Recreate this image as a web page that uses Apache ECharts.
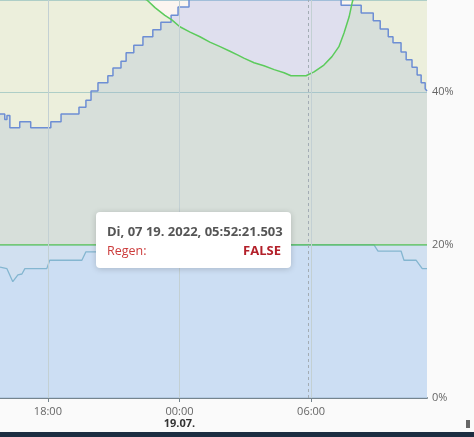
<!DOCTYPE html>
<html>
<head>
<meta charset="utf-8">
<title>Regen / Feuchte</title>
<script src="https://cdn.jsdelivr.net/npm/echarts@6/dist/echarts.min.js"></script>
<style>
  html, body { margin: 0; padding: 0; background: #fafafa; }
  #chart { width: 474px; height: 437px; }
</style>
</head>
<body>
<div id="chart"></div>
<script>
// step line (dark blue), values in %
var stepTimes = ['18 15:49', '18 16:02', '18 16:08', '18 16:16', '18 16:43', '18 17:13', '18 18:08', '18 18:36',
    '18 19:25', '18 19:44', '18 19:58', '18 20:17', '18 20:44', '18 20:58', '18 21:20', '18 21:34',
    '18 21:55', '18 22:20', '18 22:47', '18 23:09', '18 23:37', '18 23:56', '19 00:26', '19 00:56',
    '19 01:37', '19 02:46', '19 04:08', '19 05:30', '19 06:38', '19 07:08', '19 07:22', '19 08:17',
    '19 08:50', '19 09:09', '19 09:31', '19 09:44', '19 10:06', '19 10:20', '19 10:36', '19 10:50',
    '19 11:01', '19 11:12', '19 11:17'];
var stepValues = [37.1, 36.4, 36.9, 35.3, 36.1, 35.3, 36.1, 37.1,
    38.0, 38.9, 40.1, 41.2, 42.1, 43.1, 44.0, 45.1,
    46.1, 47.2, 48.1, 49.1, 50.0, 51.1, 52.1, 53.2,
    54.2, 55.1, 55.6, 54.8, 53.4, 52.3, 51.3, 50.3,
    49.3, 48.2, 47.2, 46.4, 45.2, 44.2, 43.2, 42.2,
    41.2, 40.4, 40.1];

// green curve
var humTimes = ['18 15:49', '18 18:33', '18 20:50', '18 21:44', '18 22:31', '18 22:53', '18 23:20', '18 23:39',
    '19 00:01', '19 00:29', '19 00:56', '19 01:23', '19 01:51', '19 02:18', '19 02:40', '19 02:56',
    '19 03:24', '19 03:51', '19 04:19', '19 04:46', '19 05:05', '19 05:46', '19 06:08', '19 06:35',
    '19 06:57', '19 07:16', '19 07:30', '19 07:44', '19 07:52', '19 07:55', '19 09:09', '19 11:17'];
var humValues = [62, 57, 54, 53, 52.0, 51.0, 50.0, 49.4,
    48.5, 47.8, 47.2, 46.5, 45.9, 45.3, 44.8, 44.4,
    43.8, 43.4, 42.9, 42.5, 42.1, 42.1, 42.6, 43.5,
    44.6, 45.9, 47.7, 49.8, 51.6, 52.1, 58, 64];

// light blue line near 20 %
var tempTimes = ['18 15:49', '18 16:08', '18 16:24', '18 16:38', '18 16:49', '18 16:57', '18 17:57', '18 18:05',
    '18 19:33', '18 19:44', '18 20:14', '18 20:25', '19 08:52', '19 09:03', '19 10:06', '19 10:14',
    '19 10:47', '19 11:04', '19 11:17'];
var tempValues = [17.1, 16.9, 15.2, 16.1, 16.2, 16.9, 16.9, 18.0,
    18.0, 19.1, 19.1, 20.0, 20.0, 19.2, 19.2, 18.0,
    18.0, 16.9, 16.9];

// flat green line
var limitTimes = ['18 15:49', '19 11:17'];
var limitValues = [20, 20];

var xTicks = ['18 18:00', '19 00:00', '19 06:00'];
var yTicks = [0, 20, 40];
var axisStart = '18 15:49';
var axisEnd = '19 11:17';
var cursorTime = '19 05:52:21';
var tipTitle = 'Di, 07 19. 2022, 05:52:21.503';
var tipLabel = 'Regen:';
var tipValue = 'FALSE';

// 'DD HH:MM[:SS]' -> timestamp (July 2022)
function toTime(s) {
    var p = s.split(' ');
    var hm = p[1].split(':');
    return new Date(2022, 6, +p[0], +hm[0], +hm[1], +(hm[2] || 0)).getTime();
}
function pairs(times, values) {
    return times.map(function (t, i) { return [toTime(t), values[i]]; });
}
function pad(n) { return (n < 10 ? '0' : '') + n; }

var FONT = '"Open Sans", "Noto Sans", sans-serif';
var tickValues = xTicks.map(toTime);
var chart = echarts.init(document.getElementById('chart'), null, { renderer: 'canvas' });

chart.setOption({
    animation: false,
    backgroundColor: '#fafafa',
    grid: {
        left: 0, right: 47, top: 0, bottom: 39,
        show: true, backgroundColor: '#fbf5f0', borderWidth: 0
    },
    xAxis: {
        // timestamps on a value axis so the ticks can be pinned to the labelled hours
        type: 'value',
        min: toTime(axisStart),
        max: toTime(axisEnd),
        axisLine: { lineStyle: { color: '#75848d', width: 2 } },
        axisTick: { show: true, length: 4, customValues: tickValues, lineStyle: { color: '#75848d' } },
        splitLine: { show: false },
        axisLabel: {
            margin: 8,
            customValues: tickValues,
            fontFamily: FONT,
            fontSize: 11,
            color: '#666',
            formatter: function (value) {
                var d = new Date(value);
                var hm = pad(d.getHours()) + ':' + pad(d.getMinutes());
                if (d.getHours() === 0) {
                    return '{t|' + hm + '}\n{d|' + pad(d.getDate()) + '.' + pad(d.getMonth() + 1) + '.}';
                }
                return '{t|' + hm + '}';
            },
            rich: {
                t: { fontFamily: FONT, fontSize: 11, color: '#666', lineHeight: 12 },
                d: { fontFamily: FONT, fontSize: 11, color: '#333', fontWeight: 'bold', lineHeight: 12 }
            }
        }
    },
    yAxis: {
        type: 'value',
        position: 'right',
        min: yTicks[0],
        max: 52,
        interval: yTicks[1] - yTicks[0],
        axisLine: { show: false },
        axisTick: { show: false },
        splitLine: { lineStyle: { color: '#a8c9d4', width: 1 } },
        axisLabel: {
            showMaxLabel: false,
            margin: 5,
            fontFamily: FONT,
            fontSize: 11,
            color: '#666',
            formatter: '{value}%'
        }
    },
    series: [
        {
            name: 'Stufe',
            type: 'line',
            step: 'end',
            data: pairs(stepTimes, stepValues),
            symbol: 'none',
            lineStyle: { color: '#6d8ed4', width: 1.5 },
            areaStyle: { color: 'rgba(140, 160, 230, 0.25)', opacity: 1 },
            // vertical grid lines at the labelled hours
            markLine: {
                silent: true,
                symbol: 'none',
                label: { show: false },
                lineStyle: { color: '#c3d0d3', width: 1, type: 'solid', opacity: 1 },
                data: tickValues.map(function (t) { return { xAxis: t }; })
            }
        },
        {
            name: 'Feuchte',
            type: 'line',
            data: pairs(humTimes, humValues),
            symbol: 'none',
            lineStyle: { color: '#5ccb5c', width: 1.5 },
            areaStyle: { color: 'rgba(190, 225, 160, 0.25)', opacity: 1 }
        },
        {
            // blue band under the limit
            name: 'Grenze-Fläche',
            type: 'line',
            data: pairs(limitTimes, limitValues),
            symbol: 'none',
            lineStyle: { width: 0 },
            areaStyle: { color: 'rgba(205, 225, 255, 0.6)', opacity: 1 }
        },
        {
            name: 'Temperatur',
            type: 'line',
            data: pairs(tempTimes, tempValues),
            symbol: 'none',
            lineStyle: { color: '#84b6d0', width: 1.3 },
            areaStyle: { color: 'rgba(190, 215, 250, 0.25)', opacity: 1 },
            markLine: {
                silent: true,
                symbol: 'none',
                label: { show: false },
                lineStyle: { color: '#a3acb4', width: 1, type: [3, 3], opacity: 1 },
                data: [{ xAxis: toTime(cursorTime) }]
            }
        },
        {
            name: 'Grenze',
            type: 'line',
            data: pairs(limitTimes, limitValues),
            symbol: 'none',
            lineStyle: { color: '#55c255', width: 1.2 }
        }
    ],
    graphic: [
        {
            type: 'group',
            left: 96, top: 212,
            z: 100,
            children: [
                {
                    type: 'rect',
                    z: 100,
                    shape: { x: 0, y: 0, width: 195, height: 56, r: 4 },
                    style: { fill: '#fff', shadowBlur: 6, shadowColor: 'rgba(0,0,0,0.18)', shadowOffsetY: 1 }
                },
                {
                    type: 'text', x: 11, y: 14, z: 101,
                    style: { text: tipTitle, fill: '#555', font: 'bold 13px ' + FONT }
                },
                {
                    type: 'text', x: 11, y: 33, z: 101,
                    style: { text: tipLabel, fill: '#cc3b3b', font: '12.5px ' + FONT }
                },
                {
                    type: 'text', x: 185, y: 33, z: 101,
                    style: { text: tipValue, fill: '#b3202a', font: 'bold 13px ' + FONT, align: 'right' }
                }
            ]
        },
        {
            type: 'rect',
            z: 100,
            shape: { x: 0, y: 432, width: 474, height: 5 },
            style: { fill: '#1c2d41' }
        },
        {
            type: 'rect',
            z: 100,
            shape: { x: 466, y: 420, width: 4, height: 8 },
            style: { fill: '#666' }
        }
    ]
});

window.addEventListener('resize', function () { chart.resize(); });
</script>
</body>
</html>
